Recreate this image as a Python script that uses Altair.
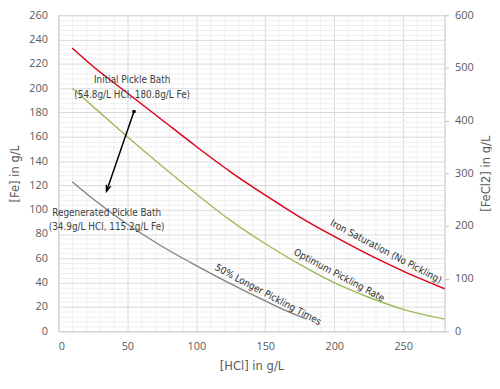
import altair as alt
import pandas as pd

# ---- data ----
hcl_sat = [10, 25, 50, 75, 100, 125, 150, 175, 200, 225, 250, 280]
fe_sat = [233, 218, 196, 174, 152, 131, 112, 94, 78, 63, 49.5, 35]

hcl_opt = [10, 25, 50, 75, 100, 125, 150, 175, 200, 225, 250, 280]
fe_opt = [200, 185, 160, 136, 113, 91, 72, 55, 40, 28, 18, 10]

hcl_long = [10, 25, 50, 75, 100, 125, 150, 165, 180]
fe_long = [123, 109, 88, 70, 54, 39, 25, 17, 10]

series_names = ["Iron Saturation (No Pickling)", "Optimum Pickling Rate", "50% Longer Pickling Times"]
series_colors = ["#e0001b", "#9bbb59", "#808080"]
series_widths = [1.5, 1.3, 1.2]

arrow_hcl = [54.8, 34.9]
arrow_fe = [180.8, 115.2]

x_major = [0, 50, 100, 150, 200, 250]
y_major = list(range(0, 261, 20))
x_minor = [v for v in range(0, 281, 10) if v % 50 != 0]
y_minor = [v for v in range(0, 261, 4) if v % 20 != 0]
fecl2_ticks = [0, 100, 200, 300, 400, 500, 600]

flat_labels = ["Initial Pickle Bath", "(54.8g/L HCl, 180.8g/L Fe)",
               "Regenerated Pickle Bath", "(34.9g/L HCl, 115.2g/L Fe)"]
flat_hcl = [53.5, 53.5, 35.0, 35.0]
flat_fe = [207, 194, 97.6, 85.6]

curve_labels = ["Iron Saturation (No Pickling)", "Optimum Pickling Rate", "50% Longer Pickling Times"]
curve_label_hcl = [237.5, 203.5, 152.0]
curve_label_fe = [65.5, 46.0, 30.0]

# ---- tables ----
df = pd.concat([
    pd.DataFrame({"hcl": hcl_sat, "fe": fe_sat, "series": series_names[0]}),
    pd.DataFrame({"hcl": hcl_opt, "fe": fe_opt, "series": series_names[1]}),
    pd.DataFrame({"hcl": hcl_long, "fe": fe_long, "series": series_names[2]}),
], ignore_index=True)
arrow_df = pd.DataFrame({"hcl": arrow_hcl, "fe": arrow_fe, "order": [0, 1]})
flat_df = pd.DataFrame({"hcl": flat_hcl, "fe": flat_fe, "label": flat_labels})
curve_lab_df = pd.DataFrame({"hcl": curve_label_hcl, "fe": curve_label_fe, "label": curve_labels})
right_df = pd.DataFrame({"fecl2": fecl2_ticks})

NARROW = "Liberation Sans Narrow, DejaVu Sans Condensed, sans-serif"
LABEL_FONT = "Open Sans"
GRAY = "#595959"

xs = alt.Scale(domain=[0, 280], nice=False, zero=False)
ys = alt.Scale(domain=[0, 260], nice=False, zero=False)

minor = alt.Chart(df).mark_line(opacity=0).encode(
    x=alt.X("hcl:Q", scale=xs, axis=alt.Axis(orient="bottom", values=x_minor, grid=True, gridColor="#efefef",
                                             labels=False, ticks=False, domain=False, title=None)),
    y=alt.Y("fe:Q", scale=ys, axis=alt.Axis(orient="left", values=y_minor, grid=True, gridColor="#efefef",
                                            labels=False, ticks=False, domain=False, title=None)),
)

curves = alt.Chart(df).mark_line(interpolate="monotone").encode(
    x=alt.X("hcl:Q", scale=xs, axis=alt.Axis(
        orient="bottom", values=x_major, grid=True, gridColor="#d9d9d9", ticks=False, domain=True,
        domainColor="#d0d0d0", labelPadding=9, labelFont=LABEL_FONT, labelFontSize=11,
        labelColor=GRAY, title="[HCl] in g/L", titleFont=NARROW, titleFontSize=13,
        titleFontWeight="normal", titleColor=GRAY, titlePadding=9)),
    y=alt.Y("fe:Q", scale=ys, axis=alt.Axis(
        orient="left", values=y_major, grid=True, gridColor="#d9d9d9", ticks=False, domain=True,
        domainColor="#d0d0d0", labelPadding=11, labelFont=LABEL_FONT, labelFontSize=11,
        labelColor=GRAY, title="[Fe] in g/L", titleFont=NARROW, titleFontSize=13,
        titleFontWeight="normal", titleColor=GRAY, titlePadding=7)),
    color=alt.Color("series:N", scale=alt.Scale(domain=series_names, range=series_colors), legend=None),
    strokeWidth=alt.StrokeWidth("series:N", scale=alt.Scale(domain=series_names, range=series_widths), legend=None),
    detail="series:N",
)

noax_x = alt.X("hcl:Q", scale=xs, axis=None)
noax_y = alt.Y("fe:Q", scale=ys, axis=None)

arrow_line = alt.Chart(arrow_df).mark_line(color="black", strokeWidth=1.5).encode(
    x=noax_x, y=noax_y, order="order:Q")
arrow_start = alt.Chart(arrow_df).transform_filter("datum.order == 0").mark_point(
    shape="circle", filled=True, color="black", size=14, opacity=1).encode(x=noax_x, y=noax_y)
arrow_head = alt.Chart(arrow_df).transform_filter("datum.order == 1").mark_point(
    shape="M -0.55 1.5 L 0 0 L 0.55 1.5", filled=False, color="black", strokeWidth=1.5,
    size=70, angle=199, opacity=1).encode(x=noax_x, y=noax_y)

flat_text = alt.Chart(flat_df).mark_text(
    font=NARROW, fontSize=10, color="#404040", align="center", baseline="middle").encode(
    x=noax_x, y=noax_y, text="label:N")
curve_text = alt.Chart(curve_lab_df).mark_text(
    font=NARROW, fontSize=10, color="#303030", align="center", baseline="middle", angle=28).encode(
    x=noax_x, y=noax_y, text="label:N")

inner = alt.layer(minor, curves, arrow_line, arrow_start, arrow_head, flat_text, curve_text).resolve_axis(
    x="independent", y="independent")

right = alt.Chart(right_df).mark_point(opacity=0).encode(
    y=alt.Y("fecl2:Q", scale=alt.Scale(domain=[0, 600], nice=False), axis=alt.Axis(
        orient="right", values=fecl2_ticks, grid=False, ticks=True, tickSize=4, tickColor="#bfbfbf",
        domain=True, domainColor="#d0d0d0", labelPadding=6, labelFont=LABEL_FONT, labelFontSize=11,
        labelColor=GRAY, title="[FeCl2] in g/L", titleAngle=270, titleBaseline="top",
        titleFont=NARROW, titleFontSize=13,
        titleFontWeight="normal", titleColor=GRAY, titlePadding=7)),
)

chart = alt.layer(inner, right).resolve_scale(y="independent").properties(
    width=391, height=320,
    autosize=alt.AutoSizeParams(type="none"),
    padding={"left": 51, "top": 5, "right": 48, "bottom": 46},
).configure_view(stroke=None).configure(background="white")

chart.save("out.html", embed_options={"renderer": "svg", "actions": False})
